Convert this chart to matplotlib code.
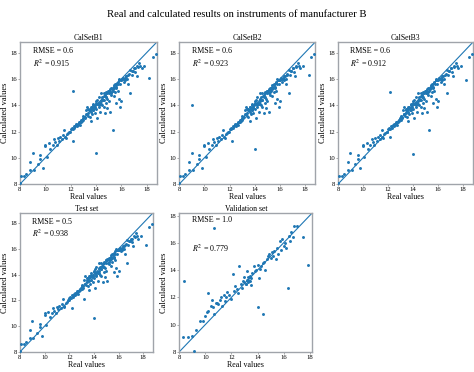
import numpy as np
import matplotlib
matplotlib.use("Agg")
import matplotlib.pyplot as plt

plt.rcParams['font.family'] = ['Liberation Serif', 'DejaVu Serif']
plt.rcParams['mathtext.fontset'] = 'stix'

# shared calibration-band samples (real, calculated)
core_real = [8.0, 8.1, 8.3, 8.5, 8.8, 8.8, 9.0, 9.1, 9.4, 9.6, 9.6, 9.8, 10.0, 10.0, 10.1,
             10.3, 10.4, 10.6, 10.7, 10.8, 10.9, 11.0, 11.1, 11.2, 11.4, 11.5, 11.6, 11.7,
             11.8, 11.9, 12.0, 12.1, 12.3, 12.4, 12.5, 12.6, 12.7, 12.8, 12.9, 13.0, 13.0,
             13.1, 13.2, 13.3, 13.3, 13.4, 13.5, 13.5, 13.6, 13.6, 13.7, 13.7, 13.8, 13.8,
             13.9, 13.9, 14.0, 14.0, 14.1, 14.1, 14.2, 14.2, 14.3, 14.3, 14.4, 14.4, 14.5,
             14.5, 14.6, 14.6, 14.7, 14.7, 14.8, 14.8, 14.9, 14.9, 15.0, 15.0, 15.1, 15.1,
             15.2, 15.2, 15.3, 15.4, 15.4, 15.5, 15.5, 15.6, 15.6, 15.7, 15.7, 15.8, 15.8,
             15.9, 15.9, 16.0, 16.0, 16.1, 16.2, 16.3, 16.3, 16.4, 16.5, 16.6, 16.7, 16.7,
             16.8, 16.9, 17.0, 17.1, 17.2, 17.3, 17.4, 17.5, 17.6, 17.8, 18.5, 18.7,
             12.35, 12.45, 12.65, 12.85, 13.15, 13.45, 13.65, 13.85, 14.05, 14.25, 14.45,
             14.65, 14.85, 15.05, 15.25, 15.45, 15.65, 15.85, 16.05, 16.25, 11.35, 11.55, 11.95]
core_calc = [8.1, 8.6, 8.6, 8.8, 9.1, 9.7, 10.4, 9.1, 9.5, 9.9, 10.2, 9.2, 10.9, 11.0, 10.1,
             11.1, 10.7, 11.0, 11.4, 11.2, 11.0, 11.5, 11.3, 11.6, 11.7, 12.1, 11.5, 11.8,
             11.9, 12.0, 12.2, 12.3, 12.3, 12.5, 12.4, 12.6, 12.5, 12.7, 12.8, 12.9, 13.2,
             13.0, 13.6, 13.3, 13.9, 13.4, 13.1, 13.7, 13.5, 12.8, 13.8, 13.3, 13.6, 14.0,
             13.4, 13.9, 14.2, 13.7, 13.0, 14.4, 13.9, 14.6, 14.1, 13.5, 14.9, 14.3, 14.0,
             14.6, 13.9, 14.4, 13.4, 14.8, 14.2, 15.0, 14.5, 13.8, 14.9, 14.3, 15.2, 13.5,
             14.8, 15.3, 15.1, 15.4, 14.7, 15.0, 15.6, 14.2, 15.3, 15.8, 15.1, 14.5, 16.0,
             13.9, 15.6, 15.9, 14.3, 16.1, 15.8, 16.0, 15.9, 16.2, 15.6, 16.4, 14.9, 16.7,
             16.3, 16.6, 16.8, 16.5, 16.2, 16.9, 17.2, 17.0, 16.8, 17.0, 17.7, 17.9,
             12.4, 12.6, 12.7, 12.9, 13.1, 13.6, 13.9, 13.8, 14.1, 14.2, 14.5, 14.7, 14.9,
             15.1, 15.2, 15.3, 15.7, 15.9, 16.0, 16.1, 11.4, 11.6, 12.0]

# denser part of the band (12-17)
dense_real = [12.15, 12.25, 12.55, 12.75, 12.95, 13.05, 13.25, 13.35, 13.55, 13.75, 13.95,
              14.15, 14.35, 14.55, 14.75, 14.95, 15.15, 15.35, 15.55, 15.75, 15.95, 16.15,
              16.35, 16.45, 16.55, 16.85, 17.05, 17.25, 13.4, 13.6, 13.8, 14.0, 14.2, 14.4,
              14.6, 14.8, 15.0, 15.2, 15.4, 15.6]
dense_calc = [12.2, 12.4, 12.5, 12.7, 13.0, 13.1, 13.3, 13.2, 13.6, 13.6, 14.0,
              14.1, 14.2, 14.4, 14.6, 15.1, 14.9, 15.2, 15.5, 15.6, 15.9, 16.0,
              16.2, 16.0, 16.3, 16.6, 16.8, 17.0, 13.7, 13.9, 14.1, 14.3, 14.0, 14.1,
              14.9, 14.6, 15.1, 15.0, 15.5, 15.4]

# panel-specific outliers
b1_real = [12.2, 14.0, 15.3, 18.2, 12.2]
b1_calc = [15.1, 10.4, 12.1, 16.1, 11.3]
b2_real = [9.0, 12.2, 14.0, 18.3]
b2_calc = [14.0, 11.3, 10.7, 16.3]
b3_real = [12.2, 14.0, 15.3, 18.2, 12.2]
b3_calc = [15.0, 10.3, 12.1, 15.9, 11.6]
test_real = [14.0, 13.2, 12.2, 18.2]
test_calc = [10.6, 12.1, 11.4, 16.3]

val_real = [8.3, 8.7, 9.0, 9.3, 9.1, 9.6, 9.8, 10.0, 10.1, 10.2, 10.2, 10.4, 10.5, 10.6,
            10.7, 10.8, 10.9, 11.0, 11.1, 11.2, 11.3, 11.4, 11.5, 11.6, 11.7, 11.8, 12.0,
            12.1, 12.2, 12.3, 12.4, 12.5, 12.6, 12.7, 12.8, 12.9, 13.0, 13.1, 13.2, 13.2,
            13.3, 13.3, 13.4, 13.4, 13.5, 13.5, 13.6, 13.7, 13.8, 13.9, 14.0, 14.0, 14.1,
            14.2, 14.3, 14.4, 14.4, 14.5, 14.6, 14.7, 14.8, 14.9, 15.0, 15.1, 15.2, 15.3,
            15.4, 15.5, 15.6, 15.7, 15.8, 15.9, 16.0, 16.1, 16.2, 16.3, 16.4, 16.5, 16.6,
            16.7, 16.8, 17.0, 17.5, 17.9, 10.7, 8.4, 13.25, 13.35, 13.15, 12.95, 13.45]
val_calc = [9.1, 9.1, 9.2, 9.6, 8.1, 10.3, 10.3, 10.6, 10.9, 11.0, 12.3, 11.4, 11.8, 11.3,
            10.8, 11.6, 11.6, 11.5, 11.8, 12.0, 11.4, 12.2, 11.7, 12.0, 12.4, 12.2, 11.9,
            13.7, 12.5, 12.8, 12.6, 12.3, 14.3, 13.0, 12.7, 13.2, 13.5, 13.0, 13.3, 13.9,
            13.1, 13.5, 13.2, 13.6, 13.4, 12.9, 13.8, 14.3, 13.9, 14.0, 11.3, 14.4, 13.4,
            14.1, 14.3, 10.8, 14.5, 14.6, 14.0, 14.8, 15.0, 15.2, 14.9, 15.3, 15.0, 15.4,
            14.8, 15.6, 15.2, 16.1, 15.5, 16.3, 15.8, 16.0, 15.6, 12.7, 16.5, 16.1, 16.8,
            16.4, 17.2, 17.2, 16.4, 14.4, 17.1, 13.2, 13.3, 13.2, 13.0, 13.1, 13.5]

base_real = core_real + dense_real
base_calc = core_calc + dense_calc

panels = [
    ("CalSetB1", base_real + b1_real, base_calc + b1_calc, "0.6", "0.915", 18.8, 18.1, 17.2),
    ("CalSetB2", base_real + b2_real, base_calc + b2_calc, "0.6", "0.923", 18.8, 18.1, 17.2),
    ("CalSetB3", base_real + b3_real, base_calc + b3_calc, "0.6", "0.912", 18.8, 18.1, 17.2),
    ("Test set", base_real + test_real, base_calc + test_calc, "0.5", "0.938", 18.8, 18.1, 17.2),
    ("Validation set", val_real, val_calc, "1.0", "0.779", 18.2, 17.7, 15.6),
]

positions = [
    [0.042, 0.505, 0.289, 0.382],
    [0.378, 0.505, 0.287, 0.382],
    [0.713, 0.505, 0.285, 0.382],
    [0.042, 0.054, 0.281, 0.374],
    [0.378, 0.054, 0.281, 0.374],
]

color = '#1f77b4'
fig = plt.figure(figsize=(4.74, 3.72), dpi=100)
fig.text(0.5, 0.962, "Real and calculated results on instruments of manufacturer B",
         ha='center', va='center', fontsize=7.7)

for (name, xr, yc, rmse, r2, lim, ry, r2y), pos in zip(panels, positions):
    ax = fig.add_axes(pos)
    ax.scatter(xr, yc, s=4.5, color=color, zorder=3, linewidths=0)
    ax.plot([8, lim], [8, lim], color=color, lw=0.8)
    ax.set_xlim(8, lim)
    ax.set_ylim(8, lim)
    ax.set_xticks([8, 10, 12, 14, 16, 18])
    ax.set_yticks([8, 10, 12, 14, 16, 18])
    ax.tick_params(labelsize=4.8, length=1.2, width=0.5, pad=1.0, color='#888888')
    for sp in ax.spines.values():
        sp.set_color('#a0a4aa')
        sp.set_linewidth(1.0)
    ax.set_title(name, fontsize=5.6, pad=1.5)
    ax.set_xlabel("Real values", fontsize=5.7, labelpad=0.5)
    ax.set_ylabel("Calculated values", fontsize=6.0, labelpad=0.8)
    ax.text(9.0, ry, f"RMSE = {rmse}", fontsize=5.8, va='center')
    ax.text(9.0, r2y, f"$R^2$ = {r2}", fontsize=5.8, va='center')

fig.savefig("out.png", dpi=100)
